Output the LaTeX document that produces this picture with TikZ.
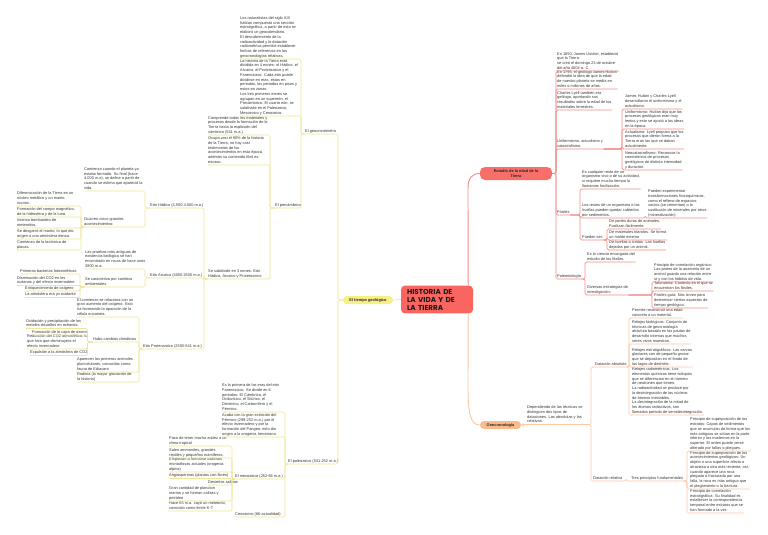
\documentclass[tikz,border=0pt]{standalone}
\usepackage{fontspec}
\setmainfont{Liberation Sans}
\newfontfamily\popfont{Poppins}
\definecolor{yl}{RGB}{240,229,150}
\definecolor{ylfill}{RGB}{246,238,135}
\definecolor{rl}{RGB}{242,140,135}
\definecolor{rootred}{RGB}{249,102,98}
\definecolor{estred}{RGB}{248,110,105}
\definecolor{ol}{RGB}{250,200,165}
\definecolor{orfill}{RGB}{251,187,140}
\definecolor{txtc}{RGB}{55,55,55}
\tikzset{
  tx/.style={font=\fontsize{3.9}{4.75}\selectfont, text=txtc, inner xsep=0.5pt, inner ysep=0.6pt, text depth=0.8pt, align=left, anchor=south west},
  yln/.style={draw=yl, line width=0.7pt, rounded corners=1.5pt},
  rln/.style={draw=rl, line width=0.7pt, rounded corners=1.5pt},
  oln/.style={draw=ol, line width=0.7pt, rounded corners=1.5pt},
  pill/.style={font=\bfseries\fontsize{3.9}{4.6}\selectfont, text=black!85, inner sep=0pt, align=center},
  rootbox/.style={fill=rootred, rounded corners=4pt, minimum width=72pt, minimum height=27pt, text width=60pt, inner xsep=6pt, align=left, text=black!90, font=\popfont\bfseries\fontsize{7.2}{8}\selectfont},
}
\newcommand{\mmL}[4]{\foreach \c in {#4} {\draw[#1] (#2.south west) -- (#2.south west -| #3) |- (\c.south west);}}
\newcommand{\mmR}[4]{\foreach \c in {#4} {\draw[#1] (#2.south east) -- (#2.south east -| #3) |- (\c.south east);}}
\begin{document}
\begin{tikzpicture}[x=1pt,y=-1pt]
\useasboundingbox[fill=white] (0,0) rectangle (768,535);
% vertical connector positions
\foreach \v in {338,301,270,204,145,81,80,139,285,232,556,622,580,645,607,585,652,523,591,629,626,687} {\coordinate (x\v) at (\v,0);}
\coordinate (x88) at (87.5,0);

% ---------- central ----------
\node[rootbox] (root) at (437,299.5) {HISTORIA DE\\LA VIDA Y DE\\LA TIERRA};
\node[pill, fill=ylfill, rounded corners=4pt, minimum width=50pt, minimum height=8pt] (tiempo) at (368,300) {El tiempo geológico};
\node[pill, fill=estred, rounded corners=5pt, minimum width=72pt, minimum height=13pt] (est) at (516,173.5) {Estudio de la edad de la\\Tierra};
\node[pill, fill=orfill, rounded corners=4pt, minimum width=41pt, minimum height=8pt] (geoc) at (500.5,425) {Geocronología};

% ---------- left: tiempo geologico ----------
\node[tx] (geoA) at (239.5,59) {Los naturalistas del siglo XIX\\habían compuesto una sección\\estratigráfica, a partir de esta se\\elaboró un geocalendario.\\El descubrimiento de la\\radioactividad y la datación\\radiométrica permitió establecer\\fechas de referencia en las\\geocronologías relativas.};
\node[tx] (geoB) at (239.5,116) {La historia de la Tierra está\\dividida en 4 eones: el Hádico, el\\Arcaico, el Proterozoico y el\\Fanerozoico. Cada eón puede\\dividirse en eras, estas en\\periodos, los periodos en pisos y\\estos en zonas.\\Los tres primeros eones se\\agrupan en un supereón, el\\Precámbrico. El cuarto eón, se\\subdivide en el Paleozoico,\\Mesozoico y Cenozoico.};
\node[tx] (geo) at (304.5,134) {El geocronómetro};
\node[tx] (prec) at (274.5,208) {El precámbrico};
\node[tx] (precA) at (207.5,135) {Comprende todos los materiales y\\procesos desde la formación de la\\Tierra hasta la explosión del\\cámbrico (541 m.a.).};
\node[tx] (precB) at (207.5,165) {Ocupa casi el 90\% de la historia\\de la Tierra, no hay casi\\testimonios de los\\acontecimientos en esta época,\\además su contenido fósil es\\escaso.};
\node[tx] (precC) at (207.5,279) {Se subdivide en 3 eones: Eón\\Hádico, Arcaico y Proterozoico};
\node[tx] (hadico) at (149.5,208) {Eón Hádico (4.500-4.000 m.a.)};
\node[tx] (arcaico) at (149.5,278) {Eón Arcaico (4000-2500 m.a.)};
\node[tx] (prote) at (142.5,349) {Eón Proterozoico (2500-541 m.a.)};

\node[tx] (hA) at (83.5,191) {Comienza cuando el planeta ya\\estaba formado. Su final (hace\\4.000 m.a), se define a partir de\\cuando se estima que apareció la\\vida.};
\node[tx] (hB) at (83.5,227) {Ocurren cinco grandes\\acontecimientos:};
\node[tx] (h1) at (16.5,206) {Diferenciación de la Tierra en un\\núcleo metálico y un manto\\rocoso.};
\node[tx] (h2) at (16.5,217) {Formación del campo magnético,\\de la hidrosfera y de la luna.};
\node[tx] (h3) at (16.5,228) {Intenso bombardeo de\\meteoritos.};
\node[tx] (h4) at (16.5,239) {Se desgarró el manto, lo que dio\\origen a una atmósfera densa.};
\node[tx] (h5) at (16.5,250) {Comienzo de la tectónica de\\placas.};

\node[tx] (aA) at (84.5,269) {Las pruebas más antiguas de\\existencia biológica se han\\encontrado en rocas de hace unos\\3800 m.a.};
\node[tx] (aB) at (84.5,287) {Se caracteriza por cambios\\ambientales.};
\node[tx] (a1) at (19.5,274) {Primeras bacterias fotosintéticas};
\node[tx] (a2) at (16.5,285.5) {Disminución del CO2 en los\\océanos y del efecto invernadero};
\node[tx] (a3) at (24.5,291) {Enriquecimiento de oxígeno};
\node[tx] (a4) at (24.5,297.5) {La atmósfera era ya oxidante};

\node[tx] (pA) at (76.5,317) {El comienzo se relaciona con un\\gran aumento del oxígeno. Esto\\ha favorecido la aparición de la\\célula eucariota.};
\node[tx] (pB) at (92.5,342) {Hubo cambios climáticos};
\node[tx] (pC) at (76.5,372) {Aparecen los primeros animales\\pluricelulares, conocidos como\\fauna de Ediacara};
\node[tx] (pD) at (76.5,382) {Rodinia (la mayor glaciación de\\la historia)};
\node[tx] (p1) at (25.5,328.5) {Oxidación y precipitación de los\\metales disueltos en océanos.};
\node[tx] (p2) at (31.5,335) {Formación de la capa de ozono};
\node[tx] (p3) at (26.5,349) {Reducción del CO2 atmosférico, lo\\que hizo que disminuyera el\\efecto invernadero};
\node[tx] (p4) at (29.5,355.5) {Expulsión a la atmósfera de CO2};

\node[tx] (paleo) at (287.5,464) {El paleozoico (541-252 m.a.)};
\node[tx] (eA) at (221.5,412) {Es la primera de las eras del eón\\Fanerozoico. Se divide en 6\\periodos: El Cámbrico, el\\Ordovícico, el Silúrico, el\\Devónico, el Carbonífero y el\\Pérmico.};
\node[tx] (eB) at (221.5,437) {Acaba con la gran extinción del\\Pérmico (299-252 m.a.) por el\\efecto invernadero y por la\\formación del Pangea, esto dio\\origen a la orogenia herciniana.};
\node[tx] (meso) at (234.5,479) {El mesozoico (252-66 m.a.)};
\node[tx] (ceno) at (234.5,517) {Cenozoico (66-actualidad)};
\node[tx] (m1) at (168.5,446) {Paso de tener mucha aridez a un\\clima tropical};
\node[tx] (m2) at (168.5,458) {Salen ammonites, grandes\\reptiles y pequeños mamíferos.};
\node[tx] (m3) at (168.5,472) {Empiezan a formarse cadenas\\montañosas actuales (orogenia\\alpina)};
\node[tx] (m4) at (168.5,478.5) {Angiospermas (plantas con flores)};
\node[tx] (m5) at (207.5,485) {Desiertos salinos};
\node[tx] (m6) at (168.5,501) {Gran cantidad de plancton\\marino y se forman calizas y\\petróleo};
\node[tx] (m7) at (168.5,511) {Hace 65 m.a. cayó un meteorito,\\conocido como límite K-T};

% ---------- right: estudio ----------
\node[tx] (r1) at (556.5,71) {En 1650, James Ussher, estableció\\que la Tierra\\se creó el domingo 23 de octubre\\del año 4004 a. C.};
\node[tx] (r2) at (556.5,89) {En 1795, el geólogo James Hutton\\defendió la idea de que la edad\\de nuestro planeta se medía en\\miles o millones de años.};
\node[tx] (r3) at (556.5,110) {Charles Lyell también era\\geólogo, aportando sus\\resultados sobre la edad de los\\materiales terrestres.};
\node[tx] (r4) at (556.5,149) {Uniformismo, actualismo y\\catastrofismo.};
\node[tx] (r5) at (556.5,215) {Fósiles};
\node[tx] (r6) at (556.5,279) {Paleontología};
\node[tx] (u1) at (624.5,109) {James Hutton y Charles Lyell\\desarrollaron el uniformismo y el\\actualismo.};
\node[tx] (u2) at (624.5,129) {Uniformismo: Hutton dijo que los\\procesos geológicos eran muy\\lentos y esto se ajustó a las ideas\\en la época.};
\node[tx] (u3) at (624.5,149) {Actualismo: Lyell propuso que los\\procesos que dieron forma a la\\Tierra eran los que se daban\\actualmente.};
\node[tx] (u4) at (624.5,170) {Neocatastrofismo: Reconoce la\\coexistencia de procesos\\geológicos de distinta intensidad\\y duración.};
\node[tx] (f1) at (581.5,189) {Es cualquier resto de un\\organismo vivo o de su actividad,\\si requiere mucho tiempo la\\llamamos fosilización.};
\node[tx] (f2) at (581.5,218) {Los restos de un organismo o las\\huellas pueden quedar cubiertos\\por sedimentos.};
\node[tx] (f3) at (581.5,240) {Pueden ser:};
\node[tx] (f2a) at (647.5,218) {Pueden experimentar\\transformaciones fisicoquímicas,\\como el relleno de espacios\\vacíos (se cementan) o la\\sustitución de minerales por otros\\(mineralización)};
\node[tx] (f3a) at (608.5,229) {De partes duras de animales.\\Fosilizan fácilmente.};
\node[tx] (f3b) at (608.5,240) {De materiales blandos. Se forma\\un molde externo};
\node[tx] (f3c) at (608.5,250) {De huellas o icnitas. Las huellas\\dejadas por un animal.};
\node[tx] (g1) at (586.5,262) {Es la ciencia encargada del\\estudio de los fósiles.};
\node[tx] (g2) at (586.5,295) {Diversas estrategias de\\investigación:};
\node[tx] (g2a) at (653.5,282) {Principio de correlación orgánica:\\Las partes de la anatomía de un\\animal guarda una relación entre\\sí y con los hábitos de vida.};
\node[tx] (g2b) at (653.5,291) {Tafonomía: Contexto en el que se\\encuentran los fósiles.};
\node[tx] (g2c) at (653.5,308) {Fósiles guía: Nos sirven para\\determinar ciertos aspectos de\\tiempo geológico.};

% ---------- right: geocronologia ----------
\node[tx] (o1) at (526.5,424.5) {Dependiendo de las técnicas se\\distinguen dos tipos de\\dataciones. Las absolutas y las\\relativas.};
\node[tx] (da) at (594.5,367) {Datación absoluta};
\node[tx] (dr) at (592.5,481) {Datación relativa};
\node[tx] (tp) at (630.5,481) {Tres principios fundamentales};
\node[tx] (d1) at (631.5,318) {Permite reconstruir una edad\\concreta a un material.};
\node[tx] (d2) at (631.5,344) {Relojes biológicos: Conjunto de\\técnicas de geocronología\\absoluta basado en las pautas de\\desarrollo internas que muchos\\seres vivos muestran.};
\node[tx] (d3) at (631.5,367) {Relojes estratigráficos: Las varvas\\glaciares son de pequeño grosor\\que se depositan en el fondo de\\los lagos de deshielo.};
\node[tx] (d4) at (631.5,415) {Relojes radiométricos: Los\\elementos químicos tiene isótopos\\que se diferencian en el número\\de neutrones que tienen.\\La radioactividad se produce por\\la desintegración de los núcleos\\de átomos inestables.\\La desintegración de la mitad de\\los átomos radiactivos, son\\llamados periodo de semidesintegración.};
\node[tx] (t1) at (689.5,451) {Principio de superposición de los\\estratos: Capas de sedimentos\\que se acumulan de forma que los\\más antiguos se sitúan en la parte\\inferior y los modernos en la\\superior. El orden puede verse\\alterado por fallas o pliegues.};
\node[tx] (t2) at (689.5,489) {Principio de superposición de los\\acontecimientos geológicos: Un\\objeto o una superficie afecta o\\atraviesa a otra más reciente, así,\\cuando aparece una roca\\plegada o fracturada por una\\falla, la roca es más antigua que\\el plegamiento o la fractura.};
\node[tx] (t3) at (689.5,513) {Principio de correlación\\estratigráfica: Su finalidad es\\establecer la correspondencia\\temporal entre estratos que se\\han formado a la vez.};

% ---------- connectors ----------
\draw[yln] (root.west) -- (tiempo.east);
\foreach \c in {geo,paleo} {\draw[yln] (tiempo.west) -- (tiempo.west -| x338) |- (\c.south west);}
\mmL{yln}{geo}{x301}{geoA,geoB,prec}
\mmL{yln}{prec}{x270}{precA,precB,precC}
\mmL{yln}{precC}{x204}{hadico,arcaico,prote}
\mmL{yln}{hadico}{x145}{hA,hB}
\mmL{yln}{hB}{x81}{h1,h2,h3,h4,h5}
\mmL{yln}{arcaico}{x145}{aA,aB}
\mmL{yln}{aB}{x80}{a1,a2,a3,a4}
\mmL{yln}{prote}{x139}{pA,pB,pC,pD}
\mmL{yln}{pB}{x88}{p1,p2,p3,p4}
\mmL{yln}{paleo}{x285}{eA,eB,meso,ceno}
\mmL{yln}{meso}{x232}{m1,m2,m3,m4,m5,m6,m7}

\draw[rln, line width=0.9pt] ([xshift=-5pt]root.north east) -- (468,190) .. controls (468,178) and (472,173.5) .. (est.west);
\foreach \c in {r1,r2,r3,r4,r5,r6} {\draw[rln] (est.east) -- (est.east -| x556) |- (\c.south east);}
\mmR{rln}{r4}{x622}{u1,u2,u3,u4}
\mmR{rln}{r5}{x580}{f1,f2,f3}
\mmR{rln}{f2}{x645}{f2a}
\mmR{rln}{f3}{x607}{f3a,f3b,f3c}
\mmR{rln}{r6}{x585}{g1,g2}
\mmR{rln}{g2}{x652}{g2a,g2b,g2c}

\draw[oln, line width=0.9pt] ([xshift=-5pt]root.south east) -- (468,385) .. controls (468,415) and (471,425) .. (geoc.west);
\draw[oln] (geoc.east) -- (geoc.east -| x523) |- (o1.south east);
\mmR{oln}{o1}{x591}{da,dr}
\mmR{oln}{da}{x629}{d1,d2,d3,d4}
\mmR{oln}{dr}{x626}{tp}
\mmR{oln}{tp}{x687}{t1,t2,t3}
\end{tikzpicture}
\end{document}
